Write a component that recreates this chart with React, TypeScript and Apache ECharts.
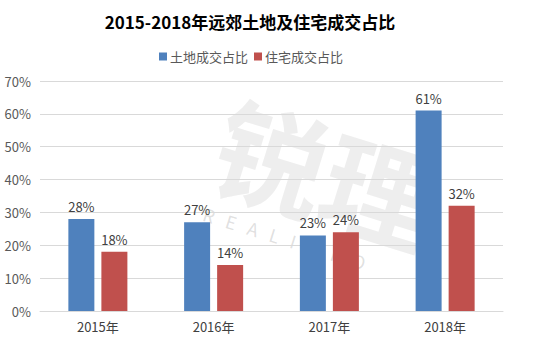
import React, { useEffect, useRef } from "react";
import * as echarts from "echarts";

const categories = ["2015年", "2016年", "2017年", "2018年"];
const landShare = [28, 27, 23, 61];
const housingShare = [18, 14, 24, 32];
const yTicks = [0, 10, 20, 30, 40, 50, 60, 70];

const FONT = "'Noto Sans CJK SC', 'Microsoft YaHei', sans-serif";

export default function App() {
  const ref = useRef<HTMLDivElement>(null);
  useEffect(() => {
    document.body.style.margin = "0";
    if (!ref.current) return;
    const chart = echarts.init(ref.current, undefined, { renderer: "svg" });
    const labelStyle = {
      show: true,
      position: "top" as const,
      formatter: (p: any) => `${p.value}%`,
      color: "#404040",
      fontSize: 13,
      fontFamily: FONT,
      distance: 6,
    };
    chart.setOption({
      animation: false,
      backgroundColor: "#ffffff",
      title: {
        text: "2015-2018年远郊土地及住宅成交占比",
        left: 245,
        textAlign: "center",
        top: 8,
        textStyle: { fontSize: 17, fontWeight: "bold", color: "#000", fontFamily: FONT },
      },
      legend: {
        data: ["土地成交占比", "住宅成交占比"],
        left: 154,
        top: 45,
        icon: "rect",
        itemWidth: 8,
        itemHeight: 8,
        itemGap: 6,
        textStyle: { fontSize: 13, color: "#595959", fontFamily: FONT, padding: [0, 0, 0, -2] },
      },
      grid: { left: 40, right: 43, top: 81, bottom: 44 },
      xAxis: {
        type: "category",
        data: categories,
        axisTick: { show: false },
        axisLine: { lineStyle: { color: "#d9d9d9" } },
        axisLabel: { color: "#404040", fontSize: 13, fontFamily: FONT, margin: 9 },
      },
      yAxis: {
        type: "value",
        min: yTicks[0],
        max: yTicks[yTicks.length - 1],
        interval: 10,
        axisLine: { show: false },
        axisTick: { show: false },
        splitLine: { lineStyle: { color: "#d9d9d9" } },
        axisLabel: { formatter: "{value}%", color: "#595959", fontSize: 13, fontFamily: FONT, margin: 9 },
      },
      series: [
        {
          name: "土地成交占比",
          type: "bar",
          data: landShare,
          barWidth: 26,
          barGap: "27%",
          itemStyle: { color: "#4f81bd" },
          label: labelStyle,
        },
        {
          name: "住宅成交占比",
          type: "bar",
          data: housingShare,
          barWidth: 26,
          itemStyle: { color: "#c0504d" },
          label: labelStyle,
        },
      ],
      graphic: [
        {
          type: "group",
          x: 325,
          y: 175,
          rotation: -0.3,
          z: 100,
          silent: true,
          children: [
            {
              type: "text",
              x: 0,
              y: -5,
              style: {
                text: "锐理",
                font: `bold 112px ${FONT}`,
                fill: "rgba(170,170,170,0.2)",
                align: "center",
                verticalAlign: "middle",
              },
            },
            {
              type: "text",
              x: -20,
              y: 72,
              style: {
                text: "R   E   A   L   I   N   F   O",
                font: `18px ${FONT}`,
                fill: "rgba(150,150,150,0.3)",
                align: "center",
                verticalAlign: "middle",
              },
            },
          ],
        },
      ],
    });
    return () => chart.dispose();
  }, []);
  return <div ref={ref} style={{ width: 546, height: 355 }} />;
}
